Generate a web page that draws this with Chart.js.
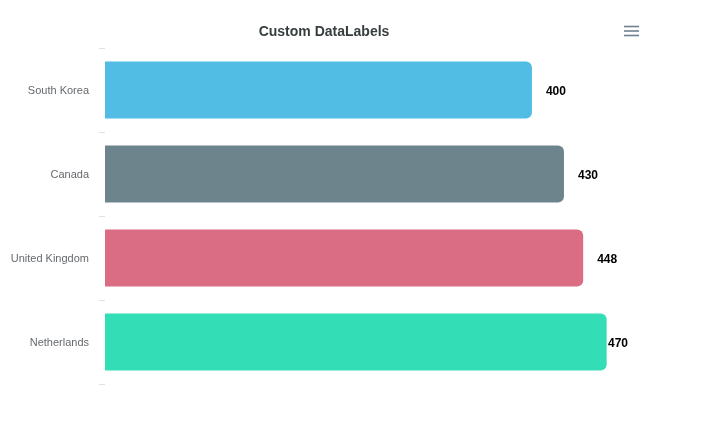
<!DOCTYPE html>
<html>
<head>
<meta charset="utf-8">
<script src="https://cdn.jsdelivr.net/npm/chart.js@4"></script>
<style>
  html, body { margin: 0; padding: 0; background: #fff; }
  #wrap { width: 723px; height: 431px; position: relative; }
</style>
</head>
<body>
<div id="wrap"><canvas id="c" width="723" height="431"></canvas></div>
<script>
const categories = ["South Korea", "Canada", "United Kingdom", "Netherlands"];
const values = [400, 430, 448, 470];
const barColors = ["#51bde5", "#6d848d", "#da6d83", "#33ddb5"];
const chartTitle = "Custom DataLabels";

const FONT = "'Liberation Sans', Arial, Helvetica, sans-serif";

const extras = {
  id: 'extras',
  afterDraw(chart) {
    const ctx = chart.ctx;
    const area = chart.chartArea;
    // title
    ctx.save();
    ctx.font = "bold 14px " + FONT;
    ctx.fillStyle = "#373d3f";
    ctx.textAlign = "center";
    ctx.textBaseline = "middle";
    ctx.fillText(chartTitle, 324, 32);
    // menu icon
    ctx.strokeStyle = "#6e8192";
    ctx.lineWidth = 1.6;
    for (let i = 0; i < 3; i++) {
      const y = 26.5 + i * 4.5;
      ctx.beginPath();
      ctx.moveTo(624, y);
      ctx.lineTo(639, y);
      ctx.stroke();
    }
    // data labels
    ctx.font = "bold 12px " + FONT;
    ctx.fillStyle = "#000";
    ctx.textAlign = "left";
    const meta = chart.getDatasetMeta(0);
    meta.data.forEach((bar, i) => {
      const txt = String(values[i]);
      const w = ctx.measureText(txt).width;
      let x = bar.x + 14;
      if (x + w > area.right) x = area.right - w;
      ctx.fillText(txt, x, bar.y + 1.5);
    });
    ctx.restore();
  }
};

new Chart(document.getElementById('c'), {
  type: 'bar',
  data: {
    labels: categories,
    datasets: [{
      data: values,
      backgroundColor: barColors,
      borderRadius: 6,
      borderSkipped: 'start',
      categoryPercentage: 1,
      barPercentage: 0.68
    }]
  },
  options: {
    indexAxis: 'y',
    responsive: false,
    animation: false,
    devicePixelRatio: 1,
    layout: { padding: { top: 48, bottom: 47, right: 95, left: 0 } },
    plugins: {
      legend: { display: false },
      title: { display: false },
      tooltip: { enabled: false }
    },
    scales: {
      x: {
        display: false,
        min: 0,
        max: 490
      },
      y: {
        afterFit(a) { a.width = 105; },
        border: { display: false },
        grid: {
          offset: true,
          drawOnChartArea: false,
          drawTicks: true,
          tickLength: 6,
          color: "#e0e0e0"
        },
        ticks: {
          padding: 10,
          labelOffset: 1,
          color: "#666a6e",
          font: { family: FONT, size: 11 }
        }
      }
    }
  },
  plugins: [extras]
});
</script>
</body>
</html>
